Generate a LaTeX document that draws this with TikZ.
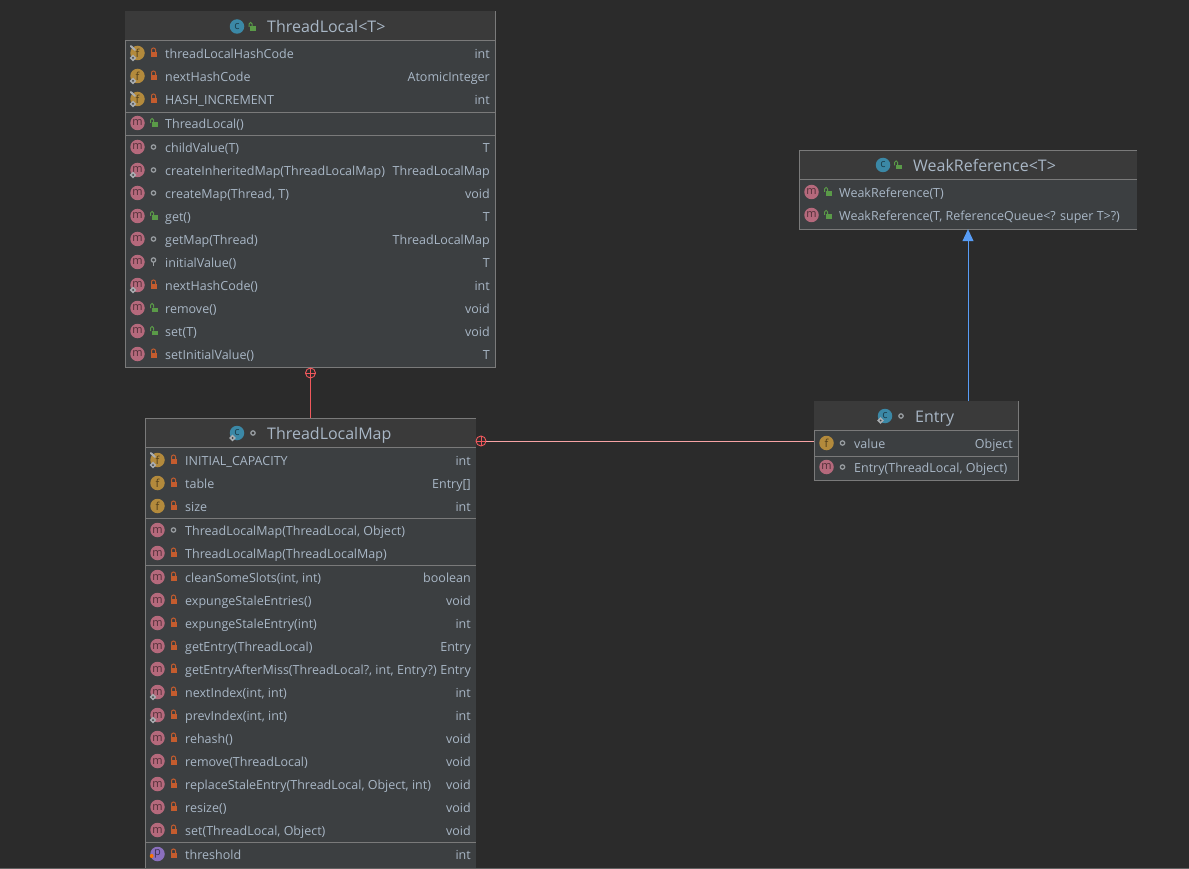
\documentclass[tikz,border=0pt]{standalone}
\usepackage{fontspec}
\setmainfont{Open Sans}
\usetikzlibrary{arrows.meta}
\definecolor{bgc}{HTML}{2B2B2B}
\definecolor{bodyc}{HTML}{3C3F41}
\definecolor{headc}{HTML}{3A3A3A}
\definecolor{linec}{HTML}{7A7A7A}
\definecolor{textc}{HTML}{A9B7C6}
\definecolor{redc}{HTML}{F0585C}
\definecolor{bluec}{HTML}{589DF6}
\definecolor{cc}{HTML}{3B88A6}
\definecolor{fc}{HTML}{B38A3C}
\definecolor{mc}{HTML}{B5697C}
\definecolor{pc}{HTML}{8A6FBE}
\definecolor{lockc}{HTML}{C45C2E}
\definecolor{openc}{HTML}{5A9A48}
\definecolor{dotc}{HTML}{9A9FA3}
\tikzset{
  x=1pt,y=-1pt,
  membertext/.style={font=\fontsize{12.5}{14}\selectfont,text=textc,inner sep=0pt,anchor=base west},
  typetext/.style={font=\fontsize{12.5}{14}\selectfont,text=textc,inner sep=0pt,anchor=base east},
  titletext/.style={font=\fontsize{16}{18}\selectfont,text=textc,inner sep=0pt,anchor=base west},
  iconm/.style={circle,fill=#1,draw=none,minimum size=14.5pt,inner sep=0pt,text=#1!45!black,font=\fontsize{11}{11}\selectfont},
  sepline/.style={draw=linec,line width=.8pt},
  classbox/.style={draw=linec,fill=bodyc,line width=.8pt},
  assoc/.style={draw=redc,line width=.9pt},
  assocpale/.style={draw=redc!55!white,line width=.8pt},
  innermark/.style={circle,draw=redc,line width=.9pt,minimum size=10pt,inner sep=0pt},
  inherit/.style={draw=bluec,line width=1pt,-{Triangle[length=12pt,width=11pt,fill=bluec]}},
}
\newcommand{\lockclosed}[2]{%
  \fill[lockc] (#1-3,#2-1) rectangle (#1+3,#2+4);
  \draw[lockc,line width=1pt] (#1-2,#2-1) -- (#1-2,#2-3) arc[start angle=180,end angle=0,x radius=2,y radius=-2] -- (#1+2,#2-1);
}
\newcommand{\lockopen}[2]{%
  \fill[openc] (#1-2,#2-0.5) rectangle (#1+4,#2+4);
  \draw[openc,line width=1pt] (#1-3,#2+0) -- (#1-3,#2-3) arc[start angle=180,end angle=0,x radius=1.6,y radius=-1.6] -- (#1+.2,#2-.5);
}
\newcommand{\pkgdot}[2]{\draw[dotc,line width=1.2pt] (#1,#2) circle[radius=2.2];}
\newcommand{\protkey}[2]{%
  \draw[dotc,line width=1.2pt] (#1,#2-2) circle[radius=2.2];
  \draw[dotc,line width=1.4pt] (#1,#2) -- (#1,#2+4.5);
}
\newcommand{\visdraw}[3]{%
  \ifcase#1\relax\or\lockclosed{#2}{#3}\or\lockopen{#2}{#3}\or\pkgdot{#2}{#3}\or\protkey{#2}{#3}\fi}
\newcommand{\gearmark}[2]{\fill[dotc!85!white] (#1,#2-3.4) -- (#1+3.4,#2) -- (#1,#2+3.4) -- (#1-3.4,#2) -- cycle;\fill[bodyc] (#1,#2) circle[radius=1];}
\newcommand{\pinmark}[2]{\draw[dotc!85!white,line width=2pt,line cap=round] (#1-2.2,#2-2) -- (#1+2,#2+2);}
\newcommand{\mrow}[9]{%
  \node[iconm=#6] (#1-i) at (#2+12.5,#4) {#5};
  \visdraw{#7}{#2+28.5}{#4}
  \node[membertext] (#1-n) at (#2+40,#4+5.3) {#8};
  \node[typetext] (#1-t) at (#3-5,#4+5.3) {#9};
}
\newcommand{\decor}[3]{%
  \ifcase#1\relax\or\gearmark{#2+8}{#3+5}\or\gearmark{#2+8}{#3+5}\pinmark{#2+8}{#3-5}\fi}
\begin{document}
\begin{tikzpicture}
\useasboundingbox (0,0) rectangle (1189,869);
\fill[bgc] (0,0) rectangle (1189,869);
\fill[linec!70!bgc] (0,867.5) rectangle (1189,869);

%%% ThreadLocal
\node[classbox,minimum width=370pt,minimum height=356pt,inner sep=0pt,anchor=north west] (TL) at (125,11) {};
\fill[headc] (125.4,11.4) rectangle (494.6,40);
\draw[sepline] (125,40) -- (495,40) (125,112) -- (495,112) (125,135) -- (495,135);
\node[iconm=cc] (TL-i) at (237,26.5) {c};
\lockopen{252}{27}
\node[titletext] (TL-title) at (267,32.5) {ThreadLocal<T>};
\mrow{tl1}{125}{495}{53}{f}{fc}{1}{threadLocalHashCode}{int}
\mrow{tl2}{125}{495}{76}{f}{fc}{1}{nextHashCode}{AtomicInteger}
\mrow{tl3}{125}{495}{99}{f}{fc}{1}{HASH\_INCREMENT}{int}
\mrow{tl4}{125}{495}{123}{m}{mc}{2}{ThreadLocal()}{}
\mrow{tl5}{125}{495}{147}{m}{mc}{3}{childValue(T)}{T}
\mrow{tl6}{125}{495}{170}{m}{mc}{3}{createInheritedMap(ThreadLocalMap)}{ThreadLocalMap}
\mrow{tl7}{125}{495}{193}{m}{mc}{3}{createMap(Thread, T)}{void}
\mrow{tl8}{125}{495}{216}{m}{mc}{2}{get()}{T}
\mrow{tl9}{125}{495}{239}{m}{mc}{3}{getMap(Thread)}{ThreadLocalMap}
\mrow{tl10}{125}{495}{262}{m}{mc}{4}{initialValue()}{T}
\mrow{tl11}{125}{495}{285}{m}{mc}{1}{nextHashCode()}{int}
\mrow{tl12}{125}{495}{308}{m}{mc}{2}{remove()}{void}
\mrow{tl13}{125}{495}{331}{m}{mc}{2}{set(T)}{void}
\mrow{tl14}{125}{495}{354}{m}{mc}{1}{setInitialValue()}{T}
\decor{2}{125}{53}\decor{1}{125}{76}\decor{2}{125}{99}\decor{1}{125}{170}\decor{1}{125}{285}

%%% ThreadLocalMap (cut by the lower and right edges of the view)
\fill[bodyc] (145,418) rectangle (476,867.5);
\fill[headc] (145,418) rectangle (476,447);
\node[inner sep=0pt,minimum size=0pt] (TM-top) at (310.5,418) {};
\node[inner sep=0pt,minimum size=0pt] (TM-right) at (476,441) {};
\draw[sepline] (476,418) -- (145,418) -- (145,867.5);
\draw[sepline] (145,447) -- (476,447) (145,518) -- (476,518) (145,565) -- (476,565) (145,842) -- (476,842);
\node[iconm=cc] (TM-i) at (237,433) {c};
\gearmark{232.5}{438}
\pkgdot{253}{433}
\node[titletext] (TM-title) at (267,439.5) {ThreadLocalMap};
\mrow{tm1}{145}{476}{460}{f}{fc}{1}{INITIAL\_CAPACITY}{int}
\mrow{tm2}{145}{476}{483}{f}{fc}{1}{table}{Entry[]}
\mrow{tm3}{145}{476}{506}{f}{fc}{1}{size}{int}
\mrow{tm4}{145}{476}{530}{m}{mc}{3}{ThreadLocalMap(ThreadLocal, Object)}{}
\mrow{tm5}{145}{476}{553}{m}{mc}{1}{ThreadLocalMap(ThreadLocalMap)}{}
\mrow{tm6}{145}{476}{577}{m}{mc}{1}{cleanSomeSlots(int, int)}{boolean}
\mrow{tm7}{145}{476}{600}{m}{mc}{1}{expungeStaleEntries()}{void}
\mrow{tm8}{145}{476}{623}{m}{mc}{1}{expungeStaleEntry(int)}{int}
\mrow{tm9}{145}{476}{646}{m}{mc}{1}{getEntry(ThreadLocal)}{Entry}
\mrow{tm10}{145}{476}{669}{m}{mc}{1}{getEntryAfterMiss(ThreadLocal?, int, Entry?)}{Entry}
\mrow{tm11}{145}{476}{692}{m}{mc}{1}{nextIndex(int, int)}{int}
\mrow{tm12}{145}{476}{715}{m}{mc}{1}{prevIndex(int, int)}{int}
\mrow{tm13}{145}{476}{738}{m}{mc}{1}{rehash()}{void}
\mrow{tm14}{145}{476}{761}{m}{mc}{1}{remove(ThreadLocal)}{void}
\mrow{tm15}{145}{476}{784}{m}{mc}{1}{replaceStaleEntry(ThreadLocal, Object, int)}{void}
\mrow{tm16}{145}{476}{807}{m}{mc}{1}{resize()}{void}
\mrow{tm17}{145}{476}{830}{m}{mc}{1}{set(ThreadLocal, Object)}{void}
\mrow{tm18}{145}{476}{854}{p}{pc}{1}{threshold}{int}
\decor{2}{145}{460}\decor{1}{145}{692}\decor{1}{145}{715}
\fill[orange!90!red] (151.7,856) circle[radius=2];

%%% WeakReference (cut by the right edge of the view)
\fill[bodyc] (799,150) rectangle (1137,229);
\fill[headc] (799,150) rectangle (1137,179);
\node[inner sep=0pt,minimum size=0pt] (WR-bottom) at (968,229) {};
\draw[sepline] (1137,150) -- (799,150) -- (799,229) -- (1137,229);
\draw[sepline] (799,179) -- (1137,179);
\node[iconm=cc] (WR-i) at (883,165) {c};
\lockopen{897.5}{165.5}
\node[titletext] (WR-title) at (913,171.5) {WeakReference<T>};
\mrow{wr1}{799}{1137}{192}{m}{mc}{2}{WeakReference(T)}{}
\mrow{wr2}{799}{1137}{215}{m}{mc}{2}{WeakReference(T, ReferenceQueue<? super T>?)}{}

%%% Entry
\node[classbox,minimum width=204pt,minimum height=79pt,inner sep=0pt,anchor=north west] (EN) at (814,401) {};
\fill[headc] (814.4,401.4) rectangle (1017.6,430);
\draw[sepline] (814,430) -- (1018,430) (814,456) -- (1018,456);
\node[iconm=cc] (EN-i) at (885,416) {c};
\gearmark{880.5}{420.5}
\pkgdot{901}{416}
\node[titletext] (EN-title) at (915,422.5) {Entry};
\mrow{en1}{814}{1018}{443}{f}{fc}{3}{value}{Object}
\mrow{en2}{814}{1018}{467}{m}{mc}{3}{Entry(ThreadLocal, Object)}{}

%%% connectors
\node[innermark] (M1) at (310.5,373) {};
\draw[redc,line width=.8pt] (M1.west) -- (M1.east) (M1.north) -- (M1.south);
\draw[assoc] (M1.south) -- (TM-top);
\node[innermark] (M2) at (481,441) {};
\draw[redc,line width=.8pt] (M2.west) -- (M2.east) (M2.north) -- (M2.south);
\draw[assocpale] (M2.east) -- (EN.west |- M2.east);
\draw[inherit] (EN.north -| WR-bottom) -- (WR-bottom);
\end{tikzpicture}
\end{document}
